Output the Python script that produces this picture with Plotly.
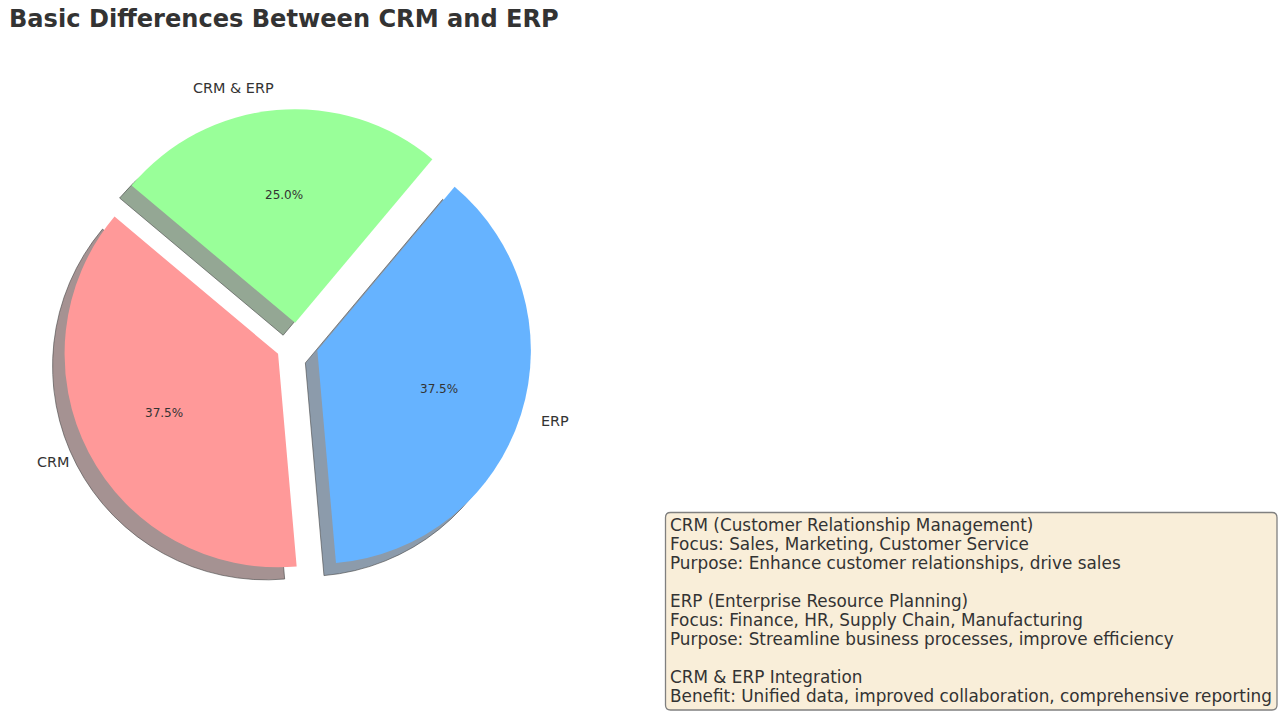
import plotly.graph_objects as go

W, H = 1280, 714

labels = ['CRM', 'ERP', 'CRM & ERP']
values = [37.5, 37.5, 25.0]
pull = [0.1, 0.1, 0.1]
colors = ['#ff9999', '#66b3ff', '#99ff99']
shadow_colors = ['#a59292', '#8c9bab', '#94a794']

title = 'Basic Differences Between CRM and ERP'
info_lines = [
    'CRM (Customer Relationship Management)',
    'Focus: Sales, Marketing, Customer Service',
    'Purpose: Enhance customer relationships, drive sales',
    '',
    'ERP (Enterprise Resource Planning)',
    'Focus: Finance, HR, Supply Chain, Manufacturing',
    'Purpose: Streamline business processes, improve efficiency',
    '',
    'CRM & ERP Integration',
    'Benefit: Unified data, improved collaboration, comprehensive reporting',
]

TEXT = '#333333'
FONT = 'DejaVu Sans'

def px(x):
    return x / W

def py(y):
    return 1 - y / H

def pie_domain(cx, cy, r):
    half = r * 1.1  # plotly shrinks the pie by the biggest pull
    return dict(x=[px(cx - half), px(cx + half)], y=[py(cy + half), py(cy - half)])

fig = go.Figure()

# shadow first so it stays under the real slices
fig.add_trace(go.Pie(labels=labels, values=values, pull=pull, sort=False,
                     direction='counterclockwise', rotation=-185,
                     domain=pie_domain(285, 356.5, 213.5),
                     marker=dict(colors=shadow_colors,
                                 line=dict(color='rgba(70,70,70,0.6)', width=1)),
                     textinfo='none', hoverinfo='skip', showlegend=False))
fig.add_trace(go.Pie(labels=labels, values=values, pull=pull, sort=False,
                     direction='counterclockwise', rotation=-185,
                     domain=pie_domain(297, 344, 213.5),
                     marker=dict(colors=colors, line=dict(width=0)),
                     textinfo='none', showlegend=False))

# slice names and percents
name_pos = [(53, 462), (555, 421), (233.5, 88)]
pct_pos = [(164, 413), (439, 389), (284, 195)]
for name, value, (nx, ny), (tx, ty) in zip(labels, values, name_pos, pct_pos):
    fig.add_annotation(x=px(nx), y=py(ny), xref='paper', yref='paper', text=name,
                       showarrow=False, xanchor='center', yanchor='middle',
                       font=dict(family=FONT, size=14.4, color=TEXT))
    fig.add_annotation(x=px(tx), y=py(ty), xref='paper', yref='paper', text=f'{value:.1f}%',
                       showarrow=False, xanchor='center', yanchor='middle',
                       font=dict(family=FONT, size=12, color=TEXT))

# info box with rounded corners
x0, x1, y0, y1, rad = px(665.5), px(1277), py(710), py(512.5), 5
rx, ry = rad / W, rad / H
box = (f'M {x0 + rx},{y0} L {x1 - rx},{y0} Q {x1},{y0} {x1},{y0 + ry} '
       f'L {x1},{y1 - ry} Q {x1},{y1} {x1 - rx},{y1} '
       f'L {x0 + rx},{y1} Q {x0},{y1} {x0},{y1 - ry} '
       f'L {x0},{y0 + ry} Q {x0},{y0} {x0 + rx},{y0} Z')
fig.add_shape(type='path', path=box, xref='paper', yref='paper',
              fillcolor='#f9eed9', line=dict(color='#808080', width=1.3))

# one annotation per line, plotly's own <br> spacing is too wide here
for i, line in enumerate(info_lines):
    if not line:
        continue
    fig.add_annotation(x=px(668), y=py(525 + i * 19.05), xref='paper', yref='paper', text=line,
                       showarrow=False, xanchor='left', yanchor='middle', align='left',
                       font=dict(family=FONT, size=16.85, color=TEXT))

fig.update_layout(
    width=W, height=H,
    margin=dict(l=0, r=0, t=0, b=0),
    paper_bgcolor='white',
    title=dict(text=f'<b>{title}</b>', xref='paper', yref='paper', x=px(9), y=py(19),
               xanchor='left', yanchor='middle',
               font=dict(family=FONT, size=24.1, color=TEXT)),
)
# drop the page's default body margin so the figure fills the window
fig.write_html('out.html', config={'displayModeBar': False},
               post_script="document.body.style.margin = '0';")
